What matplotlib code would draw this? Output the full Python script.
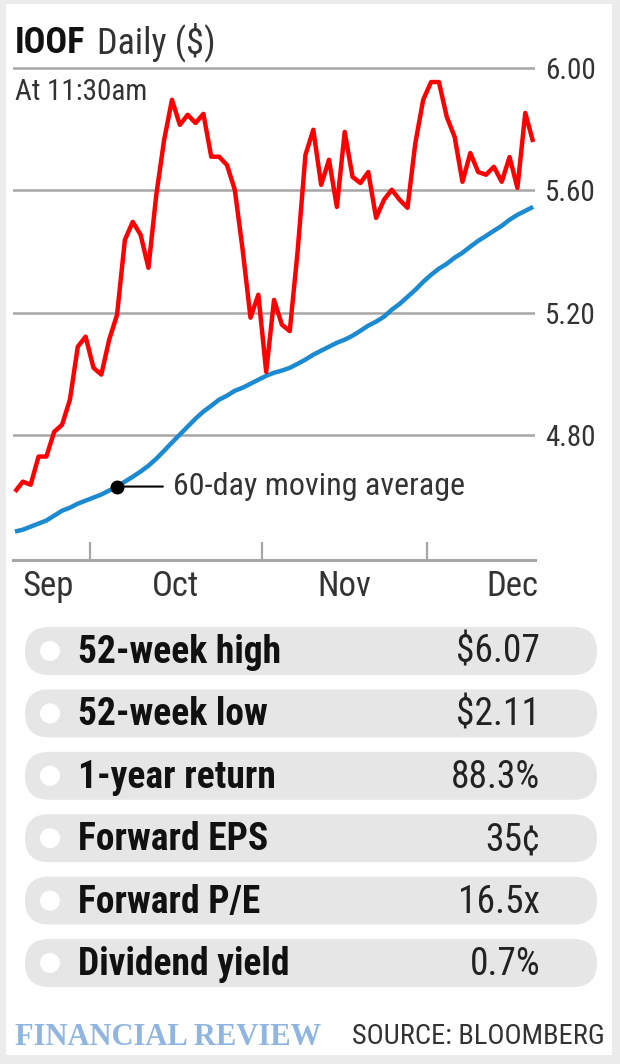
import numpy as np
import pandas as pd
import matplotlib
matplotlib.use('Agg')
import matplotlib.pyplot as plt
from matplotlib import font_manager
from matplotlib.patches import FancyBboxPatch, Circle, Rectangle


def has_font(name):
    return any(f.name == name for f in font_manager.fontManager.ttflist)


SANS = 'Liberation Sans'
for cand in ['Liberation Sans Narrow', 'Roboto Condensed', 'Open Sans Condensed']:
    if has_font(cand):
        SANS = cand
        break
plt.rcParams['font.family'] = [SANS, 'DejaVu Sans']

# ---- data ----
start_date = '2009-09-17'
dates = pd.bdate_range(start_date, '2009-12-18')
month_names = ['Sep', 'Oct', 'Nov', 'Dec']
month_starts = ['2009-09-01', '2009-10-01', '2009-11-01', '2009-12-01', '2010-01-01']
grid_levels = [4.80, 5.20, 5.60, 6.00]

price = [4.615, 4.648, 4.638, 4.730, 4.730, 4.811, 4.834, 4.916, 5.089, 5.122,
         5.020, 4.998, 5.112, 5.193, 5.438, 5.497, 5.455, 5.347, 5.585, 5.765,
         5.896, 5.814, 5.847, 5.820, 5.850, 5.710, 5.710, 5.683, 5.602, 5.406,
         5.184, 5.259, 5.007, 5.242, 5.161, 5.140, 5.400, 5.716, 5.798, 5.618,
         5.700, 5.546, 5.791, 5.644, 5.624, 5.660, 5.510, 5.569, 5.602, 5.569,
         5.543, 5.755, 5.896, 5.954, 5.954, 5.840, 5.775, 5.628, 5.722, 5.660,
         5.651, 5.677, 5.628, 5.709, 5.608, 5.853, 5.758]

ma60 = [4.485, 4.491, 4.501, 4.511, 4.521, 4.537, 4.553, 4.563, 4.576, 4.586,
        4.596, 4.606, 4.619, 4.632, 4.648, 4.664, 4.681, 4.700, 4.723, 4.749,
        4.776, 4.802, 4.828, 4.854, 4.877, 4.896, 4.916, 4.929, 4.945, 4.955,
        4.968, 4.981, 4.994, 5.004, 5.011, 5.020, 5.033, 5.047, 5.063, 5.076,
        5.089, 5.102, 5.112, 5.125, 5.141, 5.158, 5.171, 5.187, 5.210, 5.229,
        5.252, 5.275, 5.301, 5.324, 5.344, 5.360, 5.380, 5.396, 5.416, 5.435,
        5.451, 5.468, 5.484, 5.504, 5.520, 5.533, 5.546]

stat_labels = ['52-week high', '52-week low', '1-year return',
               'Forward EPS', 'Forward P/E', 'Dividend yield']
stat_values = ['$6.07', '$2.11', '88.3%', '35¢', '16.5x', '0.7%']

# ---- figure ----
W, H = 620, 1064
fig = plt.figure(figsize=(W / 100, H / 100), dpi=100)
fig.patch.set_facecolor('#ececec')

# pixel-space overlay for the panel, header, table and footer
bg = fig.add_axes([0, 0, 1, 1], zorder=0)
bg.set_xlim(0, W)
bg.set_ylim(H, 0)
bg.axis('off')
bg.add_patch(Rectangle((6, 4), 606, 1051, color='white', lw=0))

bg.text(15, 53, 'IOOF', fontsize=26, weight='bold', color='#111111')
bg.text(97, 53, 'Daily ($)', fontsize=26, color='#333333')
bg.text(15, 100, 'At 11:30am', fontsize=21, color='#333333')

# ---- chart ----
x = np.arange(len(dates))
ax = fig.add_axes([13 / W, 1 - 560 / H, (535 - 13) / W, 500 / H], zorder=1)
ax.patch.set_alpha(0)
for s in ax.spines.values():
    s.set_visible(False)
ax.set_xlim(-0.25, 66.24)
ax.set_ylim(4.392, 6.026)

for lev in grid_levels:
    ax.axhline(lev, color='#a6a6a6', lw=1.8, zorder=1)
ax.axhline(4.392, color='#a6a6a6', lw=2.2, zorder=1, clip_on=False)

idx = [np.busday_count(start_date, m) for m in month_starts]
bounds = [i - 0.5 for i in idx[1:-1]]
ax.vlines(bounds, 0, 0.036, transform=ax.get_xaxis_transform(),
          color='#a6a6a6', lw=1.6)
mids = [(a + b - 1) / 2 for a, b in zip(idx[:-1], idx[1:])]
mids = np.clip(mids, 4.2, 63.3)

ax.plot(x, ma60, color='#1b8ad0', lw=3.2, zorder=3, solid_capstyle='butt')
ax.plot(x, price, color='#ff0000', lw=3.2, zorder=4, solid_capstyle='butt')

k = 13
ax.plot([x[k]], [ma60[k]], 'o', color='black', ms=9, zorder=5)
ax.annotate('60-day moving average', xy=(x[k], ma60[k]), xytext=(40, 0),
            textcoords='offset points', va='center', ha='left', fontsize=23,
            color='#333333',
            arrowprops=dict(arrowstyle='-', color='black', lw=1.5,
                            shrinkA=5, shrinkB=0))

ax.yaxis.tick_right()
ax.set_yticks(grid_levels)
ax.set_yticklabels(['%.2f' % v for v in grid_levels])
ax.set_xticks(mids)
ax.set_xticklabels(month_names)
ax.tick_params(axis='y', length=0, pad=7, labelsize=21, labelcolor='#333333')
ax.tick_params(axis='x', length=0, pad=7, labelsize=25, labelcolor='#333333')

# ---- stats table ----
for n, (lab, val) in enumerate(zip(stat_labels, stat_values)):
    yc = 651 + n * 62.4
    bg.add_patch(FancyBboxPatch((25, yc - 24), 572, 48,
                                boxstyle='round,pad=0,rounding_size=24',
                                color='#e6e6e6', lw=0))
    bg.add_patch(Circle((50, yc), 10, color='white', lw=0))
    bg.text(78, yc + 12, lab, fontsize=27, weight='bold', color='#111111')
    bg.text(540, yc + 12, val, fontsize=27, ha='right', color='#222222')

# ---- footer ----
bg.text(15, 1045, 'FINANCIAL REVIEW', fontsize=22, weight='bold',
        family=['Liberation Serif', 'DejaVu Serif'], color='#8fb5e0')
bg.text(605, 1044, 'SOURCE: BLOOMBERG', fontsize=20.5, ha='right',
        color='#333333')

fig.savefig('out.png', dpi=100, facecolor=fig.get_facecolor())
